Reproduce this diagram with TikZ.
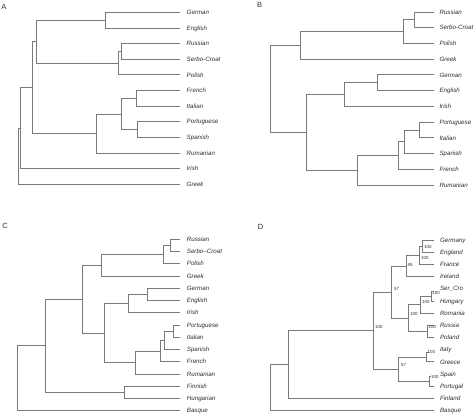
\documentclass[tikz,border=0pt]{standalone}
\usepackage{fontspec}
\setmainfont{Liberation Sans}
\definecolor{br}{HTML}{7A7A7A}
\definecolor{tx}{HTML}{2E2E2E}
\newcommand\jn[3]{\draw[branch] (#1) |- (#2) (#1) |- (#3);}
\begin{document}
\begin{tikzpicture}[x=1pt,y=-1pt,
  branch/.style={draw=br, line width=0.85pt},
  leaflab/.style={anchor=base west, inner sep=0pt, text=tx, font=\fontsize{6.2}{7}\selectfont\itshape, yshift=-2.2pt},
  boot/.style={anchor=west, inner sep=0pt, text=tx, font=\fontsize{4.4}{5}\selectfont},
  panel/.style={inner sep=0pt, text=tx, font=\fontsize{7.5}{8}\selectfont}]
\useasboundingbox (0,0) rectangle (474,415);

% ---------------- Panel A ----------------
\node[panel] (pA) at (4,6.5) {A};
\foreach \n/\y/\t in {a1/12.3/German, a2/27.94/English, a3/43.58/Russian, a4/59.22/Serbo-Croat,
  a5/74.86/Polish, a6/90.5/French, a7/106.14/Italian, a8/121.78/Portuguese, a9/137.42/Spanish,
  a10/153.06/Rumanian, a11/168.7/Irish, a12/184.34/Greek}{
  \coordinate (\n) at (180,\y);
  \node[leaflab] (\n-l) at (186.5,\y) {\t};
}
\coordinate (aGE) at (105.7,20.12); \jn{aGE}{a1}{a2}
\coordinate (aRS) at (121,51.4); \jn{aRS}{a3}{a4}
\coordinate (aRSP) at (118.3,63.13); \jn{aRSP}{aRS}{a5}
\coordinate (aGS) at (36,41.6); \jn{aGS}{aGE}{aRSP}
\coordinate (aFI) at (136.7,98.32); \jn{aFI}{a6}{a7}
\coordinate (aPS) at (137.7,129.6); \jn{aPS}{a8}{a9}
\coordinate (aR4) at (121.7,113.96); \jn{aR4}{aFI}{aPS}
\coordinate (aR5) at (96.7,133.5); \jn{aR5}{aR4}{a10}
\coordinate (aU) at (32,87.55); \jn{aU}{aGS}{aR5}
\coordinate (aUI) at (20,128.1); \jn{aUI}{aU}{a11}
\coordinate (aRoot) at (18.3,156.2); \jn{aRoot}{aUI}{a12}

% ---------------- Panel B ----------------
\node[panel] (pB) at (259.5,4.5) {B};
\foreach \n/\y/\t in {b1/12/Russian, b2/27.73/Serbo-Croat, b3/43.46/Polish, b4/59.19/Greek,
  b5/74.92/German, b6/90.65/English, b7/106.38/Irish, b8/122.11/Portuguese, b9/137.84/Italian,
  b10/153.57/Spanish, b11/169.3/French, b12/185.03/Rumanian}{
  \coordinate (\n) at (434.3,\y);
  \node[leaflab] (\n-l) at (439.3,\y) {\t};
}
\coordinate (bRS) at (414.3,19.87); \jn{bRS}{b1}{b2}
\coordinate (bRSP) at (403.7,31.66); \jn{bRSP}{bRS}{b3}
\coordinate (bSG) at (300.7,45.43); \jn{bSG}{bRSP}{b4}
\coordinate (bGE) at (377,82.79); \jn{bGE}{b5}{b6}
\coordinate (bGEI) at (344.7,94.58); \jn{bGEI}{bGE}{b7}
\coordinate (bPI) at (419.7,129.98); \jn{bPI}{b8}{b9}
\coordinate (bPIS) at (404.3,141.77); \jn{bPIS}{bPI}{b10}
\coordinate (bPISF) at (398.3,155.54); \jn{bPISF}{bPIS}{b11}
\coordinate (bRom) at (357.7,170.28); \jn{bRom}{bPISF}{b12}
\coordinate (bGR) at (306,132.43); \jn{bGR}{bGEI}{bRom}
\coordinate (bRoot) at (270.3,88.93); \jn{bRoot}{bSG}{bGR}

% ---------------- Panel C ----------------
\node[panel] (pC) at (5,225.5) {C};
\foreach \n/\y/\t in {c1/239.3/Russian, c2/251.54/Serbo--Croat, c3/263.78/Polish, c4/276.02/Greek,
  c5/288.26/German, c6/300.5/English, c7/312.74/Irish, c8/324.98/Portuguese, c9/337.22/Italian,
  c10/349.46/Spanish, c11/361.7/French, c12/373.94/Rumanian, c13/386.18/Finnish,
  c14/398.42/Hungarian, c15/410.66/Basque}{
  \coordinate (\n) at (180,\y);
  \node[leaflab] (\n-l) at (186.7,\y) {\t};
}
\coordinate (cRS) at (170,245.42); \jn{cRS}{c1}{c2}
\coordinate (cRSP) at (163.3,254.6); \jn{cRSP}{cRS}{c3}
\coordinate (cSG) at (101,265.31); \jn{cSG}{cRSP}{c4}
\coordinate (cGE) at (147.3,294.38); \jn{cGE}{c5}{c6}
\coordinate (cGEI) at (128.3,303.56); \jn{cGEI}{cGE}{c7}
\coordinate (cPI) at (173,331.1); \jn{cPI}{c8}{c9}
\coordinate (cPIS) at (164,340.28); \jn{cPIS}{cPI}{c10}
\coordinate (cPISF) at (160.3,350.99); \jn{cPISF}{cPIS}{c11}
\coordinate (cRom) at (135.7,362.47); \jn{cRom}{cPISF}{c12}
\coordinate (cGR) at (104.7,333.01); \jn{cGR}{cGEI}{cRom}
\coordinate (cIE) at (82.7,299.16); \jn{cIE}{cSG}{cGR}
\coordinate (cFH) at (124.3,392.3); \jn{cFH}{c13}{c14}
\coordinate (cIEU) at (45.3,345.73); \jn{cIEU}{cIE}{cFH}
\coordinate (cRoot) at (17.3,378.2); \jn{cRoot}{cIEU}{c15}

% ---------------- Panel D ----------------
\node[panel] (pD) at (260.5,226.5) {D};
\foreach \n/\x/\yl/\y/\t in {d1/433.7/240/240/Germany, d2/433.7/252.19/252.19/England,
  d3/433.7/264.38/264.38/France, d4/433.7/276.57/276.57/Ireland, d5/432.8/291/288.76/Ser\_Cro,
  d6/433.7/300.95/300.95/Hungary, d7/433.7/313.14/313.14/Romania, d8/433.7/325.33/325.33/Russia,
  d9/433.7/337.52/337.52/Poland, d10/428.5/352/349.71/Italy, d11/433.7/361.9/361.9/Greece,
  d12/431/376/374.09/Spain, d13/433.7/386.28/386.28/Portugal, d14/433.7/398.47/398.47/Finland,
  d15/433.7/410.66/410.66/Basque}{
  \coordinate (\n) at (\x,\yl);
  \node[leaflab] (\n-l) at (439.8,\y) {\t};
}
\coordinate (dGE) at (422.7,246.1); \jn{dGE}{d1}{d2}
\coordinate (dGEF) at (419.3,255.29); \jn{dGEF}{dGE}{d3}
\coordinate (dGEFI) at (406,265.93); \jn{dGEFI}{dGEF}{d4}
\coordinate (dSH) at (431.3,295.98); \jn{dSH}{d5}{d6}
\coordinate (dSHR) at (420.7,304.56); \jn{dSHR}{dSH}{d7}
\coordinate (dRP) at (427,331.43); \jn{dRP}{d8}{d9}
\coordinate (dSHRRP) at (408,317.99); \jn{dSHRRP}{dSHR}{dRP}
\coordinate (dBig) at (391.3,291.96); \jn{dBig}{dGEFI}{dSHRRP}
\coordinate (dIG) at (426.3,356.95); \jn{dIG}{d10}{d11}
\coordinate (dSP) at (429.3,381.14); \jn{dSP}{d12}{d13}
\coordinate (dIGSP) at (398.7,369.05); \jn{dIGSP}{dIG}{dSP}
\coordinate (dIE) at (373.3,330.5); \jn{dIE}{dBig}{dIGSP}
\coordinate (dIEF) at (288.3,364.49); \jn{dIEF}{dIE}{d14}
\coordinate (dRoot) at (270.3,387.58); \jn{dRoot}{dIEF}{d15}

\node[boot] (bt1) at (424,246.5) {100};
\node[boot] (bt2) at (421,258) {100};
\node[boot] (bt3) at (407.5,264.5) {85};
\node[boot] (bt4) at (432.2,292.5) {100};
\node[boot] (bt5) at (422,301.8) {100};
\node[boot] (bt6) at (428.5,327.3) {100};
\node[boot] (bt7) at (410,314.3) {100};
\node[boot] (bt8) at (394,289.3) {57};
\node[boot] (bt9) at (427.5,352) {100};
\node[boot] (bt10) at (431,377.3) {100};
\node[boot] (bt11) at (401,365.5) {57};
\node[boot] (bt12) at (375,327) {100};
\end{tikzpicture}
\end{document}
